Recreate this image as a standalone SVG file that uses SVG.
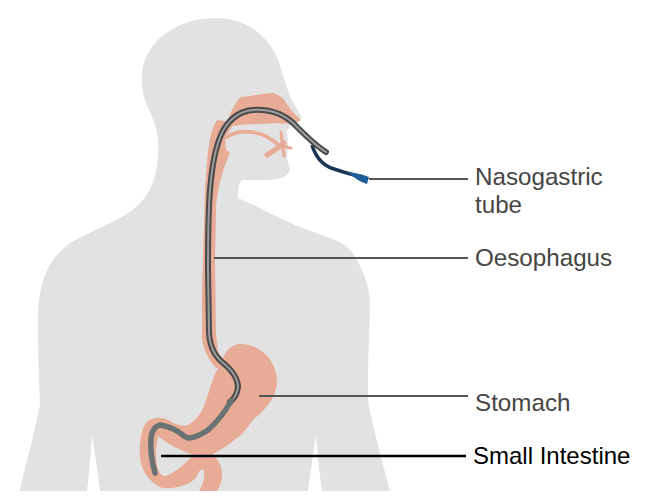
<svg xmlns="http://www.w3.org/2000/svg" width="652" height="500" viewBox="0 0 652 500">
<style>
.lbl{font-family:"Liberation Sans",Arial,sans-serif;font-size:24.2px;fill:#454545}
.lead{fill:none;stroke:#555;stroke-width:2}
.organ{fill:#e8ab96}
.gut{fill:none;stroke:#e8ab96;stroke-linecap:round;stroke-linejoin:round}
.tube-shell{fill:none;stroke:#4a4a4a;stroke-width:6;stroke-linecap:round;stroke-linejoin:round}
.tube-core{fill:none;stroke:#9c9c9c;stroke-width:2;stroke-linecap:round}
</style>
<rect width="652" height="500" fill="#fff"/>
<g id="body">
<path fill="#e2e2e2" d="M20 491 C24 470 32 445 40 405 L38 345 C37 320 38 300 42 285 C46 268 53 257 70 243 C88 233 105 226 120 218 C135 210 147 198 152 185 C157 172 159 155 158 140 C157 125 150 112 146 103 C142 92 141 85 142 72 C146 40 178 18 216 18 C250 18 274 40 282 72 L290 97 L302 118 L293 123 L287 131 L288 147 L287 158 L290 170 C288 176 282 179 270 180 L243 180 C238 182 238 190 238 198 C248 202 258 207 267 212 C280 218 290 223 300 227 C315 233 330 237 340 242 C350 248 354 254 357 260 C365 275 370 290 370 303 L368 370 L368 400 C371 420 382 460 390 491 L322 491 C319 470 317 450 316 435 C314 450 310 475 308 491 L100 491 C98 470 94 450 92 435 C91 450 89 475 87 491 Z"/>
</g>
<g id="airway">
<path class="organ" d="M232 110 C235 104 238 99 241 97 C252 96 264 93 273 93 C281 95 285 100 288 106 C292 112 297 116 301 120 C296 124 288 124 277 123 C262 124 248 124 232 126 L226 124 Z"/>
<path class="organ" d="M217 120 C209 132 208 150 206 175 C204 195 205 205 204 225 L202 290 L202 337 C203 350 208 358 216 368 L228 366 L218 352 L216 333 L215 260 L216 210 C216 195 222 172 227 160 L230 152 L226 150 L225 137 L232 127 L232 122 Z"/>
<path class="gut" stroke-width="3.8" d="M227 137 C240 128 264 130 279 146"/>
<path class="gut" stroke-width="5" d="M267 155 C272 152 278 148 284 143"/>
<path class="gut" stroke-width="3" d="M281 132 L284 156 M278 145 L291 148"/>
</g>
<g id="stomach">
<path class="organ" d="M240 344 C262 344 277 362 277 382 C276 400 262 412 253 420 C247 428 243 434 237 438 C230 444 220 450 212 455 C220 460 223 470 222 478 C221 484 219 488 217 491 L199 491 C203 485 205 478 204 471 C202 468 199 470 197 476 C192 484 178 489 163 488 C150 484 141 470 140 457 C139 445 141 430 146 423 C150 418 160 415 170 421 C176 425 183 427 188 425 C195 421 201 414 204 406 C208 396 210 386 216 372 C220 366 222 358 226 352 C230 347 235 344 240 344 Z"/>
<path fill="#e2e2e2" d="M158 436 C165 442 178 450 194 455 C186 462 175 474 165 476 C158 476 156 465 156 450 Z"/>
</g>
<g id="tube">
<path fill="none" stroke="#1c3553" stroke-width="3.6" d="M312 145 C316 158 324 166 334 169 C345 173 355 175 363 177"/>
<path fill="#1f5f96" d="M348 172 C356 173 364 175 369 177 L367 184 C360 182 354 178 348 172 Z"/>
<path class="tube-shell" d="M326 152 C316 146 305 135 297 127 C288 117 278 111 262 110 C248 109 236 112 226 126 C216 140 212 165 210 190 C208 215 208 240 208 270 L209 330 C209 345 214 355 222 362 C232 370 238 378 238 387 C237 395 234 399 230 402"/>
<path class="tube-core" d="M326 152 C316 146 305 135 297 127 C288 117 278 111 262 110 C248 109 236 112 226 126 C216 140 212 165 210 190 C208 215 208 240 208 270 L209 330 C209 345 214 355 222 362 C232 370 238 378 238 387 C237 395 234 399 230 402"/>
<path fill="none" stroke="#4a4a4a" stroke-width="2" stroke-linecap="round" d="M226 406 L232 398"/>
<path fill="none" stroke="#6a7373" stroke-width="5.5" stroke-linecap="round" stroke-linejoin="round" d="M231 401 C225 412 216 423 208 430 C202 434 194 438 188 438 C184 437 181 433 177 431 C172 428 166 426 160 425 C155 426 152 431 151 438 C150 450 152 462 155 473"/>
</g>
<g id="connectors">
<path class="lead" d="M369 179 H468"/>
<path class="lead" d="M214 258 H468"/>
<path class="lead" d="M259 396 H468"/>
<path fill="none" stroke="#000" stroke-width="2.4" d="M161 456 H466"/>
</g>
<g id="labels">
<text class="lbl" x="475" y="185">Nasogastric</text>
<text class="lbl" x="475" y="213">tube</text>
<text class="lbl" x="475" y="266">Oesophagus</text>
<text class="lbl" x="475" y="411">Stomach</text>
<text x="473" y="464" style="font-family:'Liberation Sans',Arial,sans-serif;font-size:24px;fill:#000">Small Intestine</text>
</g>
</svg>
